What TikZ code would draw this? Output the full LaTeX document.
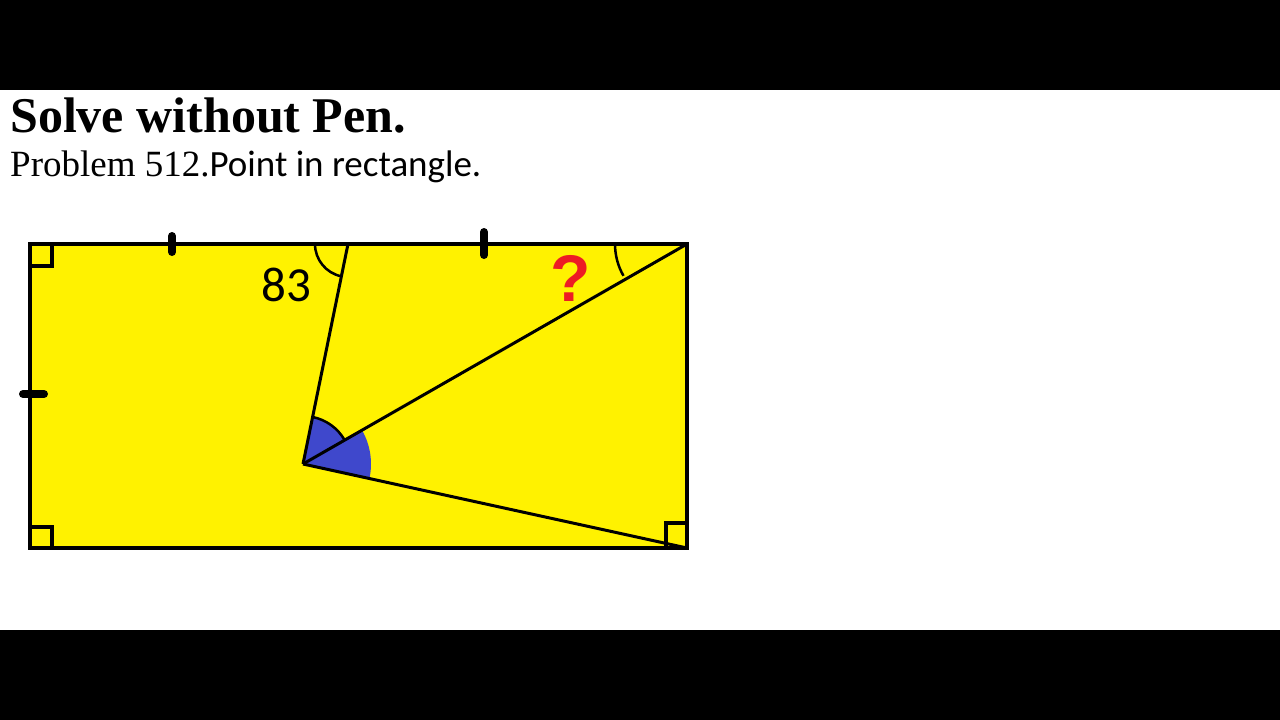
\documentclass[tikz,border=0pt]{standalone}
\usetikzlibrary{calc}
\usepackage{fontspec}
\setmainfont{Liberation Serif}
\newfontfamily\calib{Carlito}
\newfontfamily\arialb{Liberation Sans}
\definecolor{pyellow}{RGB}{255,242,0}
\definecolor{pblue}{RGB}{63,72,204}
\definecolor{pred}{RGB}{237,28,36}
\tikzset{
  side/.style={line width=4pt},
  ray/.style={line width=3pt},
  tick/.style={line width=8pt,line cap=round},
  rightang/.style={line width=3.5pt},
  angmark/.style={line width=2.5pt},
}
\begin{document}
\begin{tikzpicture}[x=1pt,y=-1pt]
\useasboundingbox (0,0) rectangle (1280,720);
\fill[white] (0,0) rectangle (1280,720);
\fill[black] (0,0) rectangle (1280,90);
\fill[black] (0,630) rectangle (1280,720);
% title
\node[anchor=base west,inner sep=0pt,font=\fontsize{50}{56}\selectfont\bfseries] (title) at (10,132) {Solve without Pen.};
\node[anchor=base west,inner sep=0pt,font=\fontsize{37}{42}\selectfont] (sub) at (10,176) {Problem 512.{\calib Point in rectangle.}};
% points
\coordinate (A) at (30,244);
\coordinate (B) at (687,244);
\coordinate (C) at (687,548);
\coordinate (D) at (30,548);
\coordinate (P) at (303,464);
\coordinate (Q) at (348,244);
% rectangle
\fill[pyellow] (A) rectangle (C);
% blue sectors
\fill[pblue] (P) -- ++(-29.8:68) arc[start angle=-29.8,end angle=12.2,radius=68] -- cycle;
\fill[pblue] (P) -- ++(-78.4:48) arc[start angle=-78.4,end angle=-29.8,radius=48] -- cycle;
\draw[angmark] ($(P)+(-78.4:48)$) arc[start angle=-78.4,end angle=-29.8,radius=48];
% right angle squares
\draw[rightang] (30,244) rectangle (52,266);
\draw[rightang] (30,548) rectangle (52,527);
\draw[rightang] (687,548) rectangle (666,523);
% angle marks
\draw[angmark] ($(Q)+(180:33)$) arc[start angle=180,end angle=101.6,radius=33];
\draw[angmark] ($(B)+(180:72)$) arc[start angle=180,end angle=150.2,radius=64];
% rays
\draw[ray] (P) -- (Q);
\draw[ray] (P) -- (B);
\draw[ray] (P) -- (C);
\draw[side] (A) rectangle (C);
% ticks
\draw[tick] (172,236) -- (172,252);
\draw[tick] (484,232) -- (484,255);
\draw[tick] (23,394) -- (44,394);
% labels
\node[anchor=base west,inner sep=0pt,font=\calib\fontsize{49}{50}\selectfont] (l83) at (261,301) {83};
\node[anchor=base west,inner sep=0pt,text=pred,font=\arialb\bfseries\fontsize{66}{70}\selectfont] (lq) at (550,301) {?};
\end{tikzpicture}
\end{document}
